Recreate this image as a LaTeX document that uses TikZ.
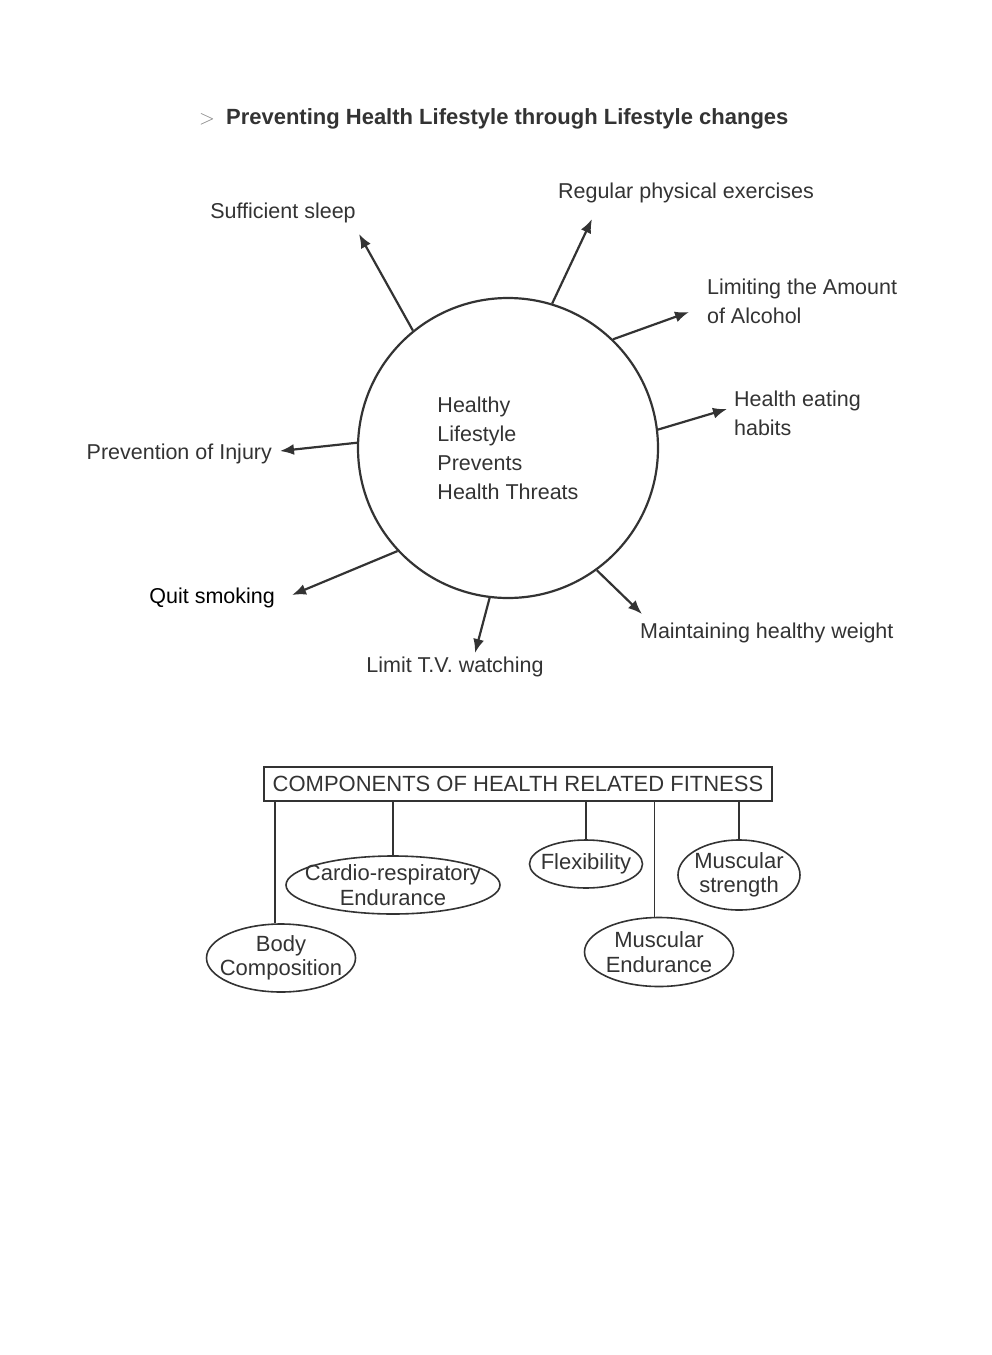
\documentclass[tikz,border=0pt]{standalone}
\usepackage{fontspec}
\setmainfont{Liberation Sans}
\usetikzlibrary{arrows.meta, shapes.geometric}

\definecolor{ink}{HTML}{333333}

\begin{document}
\begin{tikzpicture}[x=1pt, y=-1pt, ink, line width=2.2pt,
    lbl/.style={inner sep=0pt, font=\fontsize{21.5}{29}\selectfont, align=left},
    arr/.style={-{Latex[length=14pt, width=11pt]}},
    comp/.style={draw, ellipse, inner sep=-14pt, line width=1.6pt, align=center,
        font=\fontsize{22}{24.5}\selectfont}]
    \useasboundingbox (0,0) rectangle (991,1355);

    % Title
    \node[lbl, anchor=base west, font=\fontsize{22}{29}\selectfont] (title) at (225,124) {\textbf{Preventing Health Lifestyle through Lifestyle changes}};
    \node[lbl, anchor=base east, text=ink!60] (mark) at (216,124) {$>$};

    % Nodes
    \node[draw, circle, minimum size=300pt, inner sep=0pt, align=left,
        font=\fontsize{21.5}{29}\selectfont] (hl) at (508,448) {Healthy\\Lifestyle\\Prevents\\Health Threats};

    \node[lbl, anchor=base] (sleep) at (283,218) {Sufficient sleep};
    \node[lbl, anchor=base west] (exer) at (557,198) {Regular physical exercises};
    \node[lbl, anchor=base west] (alc) at (706,323) {Limiting the Amount\\of Alcohol};
    \node[lbl, anchor=base west] (eat) at (733,435) {Health eating\\habits};
    \node[lbl, anchor=base east] (inj) at (273,459) {Prevention of Injury};
    \node[lbl, anchor=base east, text=black] (smoke) at (276,603) {Quit smoking};
    \node[lbl, anchor=base] (tv) at (455,672) {Limit T.V. watching};
    \node[lbl, anchor=base west] (wgt) at (639,638) {Maintaining healthy weight};

    \coordinate (sleepend) at (359,234);
    \coordinate (exerend) at (592,219);
    \coordinate (alcend) at (689,312);
    \coordinate (eatend) at (727,409);
    \coordinate (injend) at (280,451);
    \coordinate (smokeend) at (292,595);
    \coordinate (tvend) at (475,653);
    \coordinate (wgtend) at (642,614);

    % Arrows
    \draw[arr] (hl.129) -- (sleepend);
    \draw[arr] (hl.73) -- (exerend);
    \draw[arr] (hl.46) -- (alcend);
    \draw[arr] (hl.7) -- (eatend);
    \draw[arr] (hl.178) -- (injend);
    \draw[arr] (hl.223) -- (smokeend);
    \draw[arr] (hl.263) -- (tvend);
    \draw[arr] (hl.306) -- (wgtend);

    % Components
    \node[draw, line width=1.6pt, minimum width=508pt, minimum height=34pt, inner sep=0pt,
        font=\fontsize{22}{24}\selectfont] (hrf) at (518,784) {COMPONENTS OF HEALTH RELATED FITNESS};

    \node[comp, minimum width=149pt, minimum height=68pt] (body) at (281,958) {Body\\Composition};
    \node[comp, minimum width=214pt, minimum height=58pt] (cardio) at (393,885) {Cardio-respiratory\\Endurance};
    \node[comp, minimum width=113pt, minimum height=48pt] (flex) at (586,864) {Flexibility};
    \node[comp, minimum width=149pt, minimum height=69pt] (endur) at (659,952) {Muscular\\Endurance};
    \node[comp, minimum width=122pt, minimum height=70pt] (str) at (739,875) {Muscular\\strength};

    \draw[line width=1.6pt] (body.100 |- hrf.south) -- (body.100);
    \draw[line width=1.6pt] (cardio.north |- hrf.south) -- (cardio.north);
    \draw[line width=1.6pt] (flex.north |- hrf.south) -- (flex.north);
    \draw[line width=1.6pt] (endur.97 |- hrf.south) -- (endur.97);
    \draw[line width=1.6pt] (str.north |- hrf.south) -- (str.north);
\end{tikzpicture}
\end{document}
